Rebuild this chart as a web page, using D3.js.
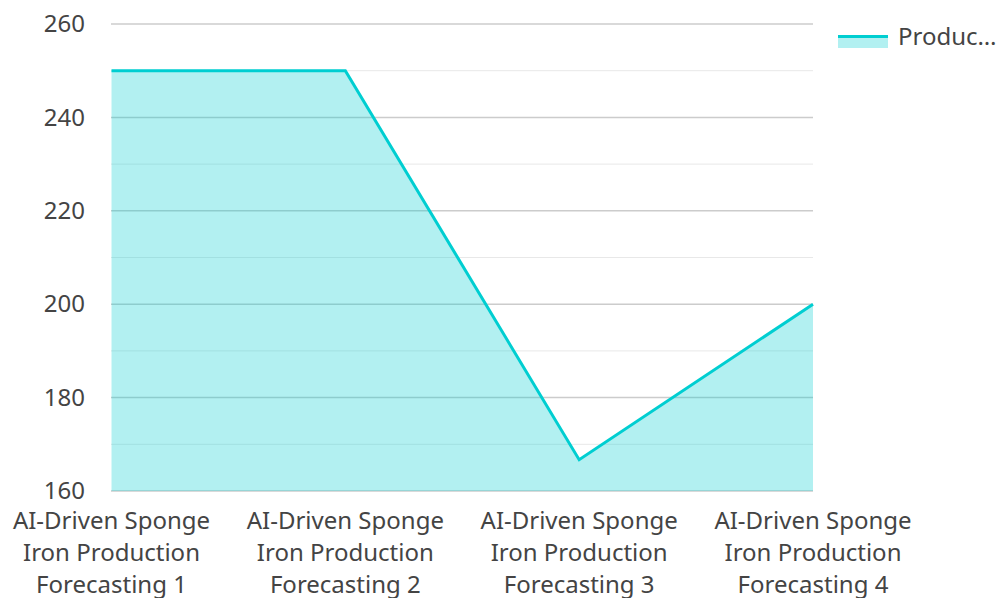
<!DOCTYPE html>
<html><head><meta charset="utf-8">
<script src="https://cdn.jsdelivr.net/npm/d3@7"></script>
<style>body{margin:0;background:#fff}svg{display:block}text{font-family:"Noto Sans",sans-serif}</style>
</head><body><svg id="c" width="1000" height="598"></svg>
<script>
const categories = ["AI-Driven Sponge Iron Production Forecasting 1","AI-Driven Sponge Iron Production Forecasting 2","AI-Driven Sponge Iron Production Forecasting 3","AI-Driven Sponge Iron Production Forecasting 4"];
const values = [250, 250, 166.7, 200];
const yTicks = [160, 180, 200, 220, 240, 260];
const minorTicks = [170, 190, 210, 230, 250];
const seriesName = "Produc…";
const color = "#00CED1";

const svg = d3.select("#c");
const x = d3.scalePoint().domain(categories).range([111.5, 813]);
const y = d3.scaleLinear().domain([160, 260]).range([491, 24]);

const grid = svg.append("g");
grid.selectAll("line.minor").data(minorTicks).join("line")
  .attr("x1", 111).attr("x2", 813).attr("y1", d => y(d)).attr("y2", d => y(d))
  .attr("stroke", "#e8e8e8").attr("stroke-width", 1);
grid.selectAll("line.major").data(yTicks).join("line")
  .attr("x1", 111).attr("x2", 813).attr("y1", d => y(d)).attr("y2", d => y(d))
  .attr("stroke", "#cccccc").attr("stroke-width", 1.5);

const yAxis = d3.axisLeft(y).tickValues(yTicks).tickSize(0).tickPadding(26);
svg.append("g").attr("transform", "translate(111,0)").call(yAxis)
  .call(g => g.select(".domain").remove())
  .selectAll("text").attr("font-size", 24).attr("fill", "#444").attr("font-family", "Noto Sans");

const data = categories.map((c, i) => ({c, v: values[i]}));
svg.append("path").datum(data)
  .attr("d", d3.area().x(d => x(d.c)).y0(y(160)).y1(d => y(d.v)))
  .attr("fill", color).attr("fill-opacity", 0.3);
svg.append("path").datum(data)
  .attr("d", d3.line().x(d => x(d.c)).y(d => y(d.v)))
  .attr("fill", "none").attr("stroke", color).attr("stroke-width", 3);

const xg = svg.append("g");
categories.forEach(c => {
  const words = c.split(" ");
  const lines = [words.slice(0,2).join(" "), words.slice(2,4).join(" "), words.slice(4).join(" ")];
  const t = xg.append("text").attr("text-anchor", "middle").attr("font-size", 24).attr("fill", "#444");
  lines.forEach((l, i) => t.append("tspan").attr("x", x(c)).attr("y", 529 + i * 32).text(l));
});

const lg = svg.append("g");
lg.append("rect").attr("x", 838).attr("y", 36).attr("width", 50).attr("height", 12).attr("fill", color).attr("fill-opacity", 0.3);
lg.append("line").attr("x1", 838).attr("x2", 888).attr("y1", 36.5).attr("y2", 36.5).attr("stroke", color).attr("stroke-width", 3);
lg.append("text").attr("x", 898).attr("y", 45).attr("font-size", 24).attr("fill", "#444").text(seriesName);
</script></body></html>
